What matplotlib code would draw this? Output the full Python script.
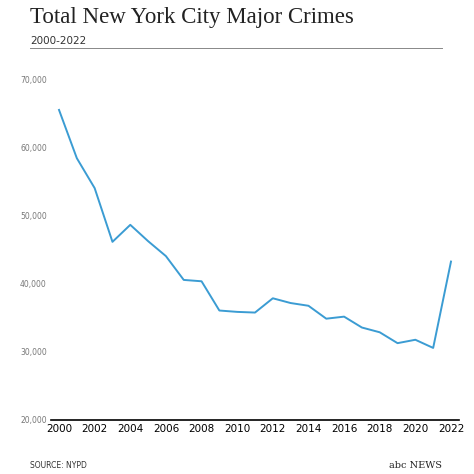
import matplotlib.pyplot as plt
from matplotlib.lines import Line2D

years = list(range(2000, 2023))
crimes = [65600, 58500, 54100, 46200, 48700, 46300, 44100, 40600, 40400, 36100,
          35900, 35800, 37900, 37200, 36800, 34900, 35200, 33600, 32900, 31300,
          31800, 30600, 43300]
xticks = list(range(2000, 2023, 2))
yticks = [20000, 30000, 40000, 50000, 60000, 70000]


def main():
    fig = plt.figure(figsize=(4.74, 4.74), dpi=100)
    ax = fig.add_axes([51 / 474, 54 / 474, 408 / 474, 340 / 474])
    ax.plot(years, crimes, color="#3b9cd3", lw=1.4)
    ax.set_xlim(1999.55, 2022.45)
    ax.set_ylim(20000, 70000)
    ax.set_xticks(xticks)
    ax.set_xticklabels([str(x) for x in xticks], fontsize=7.5)
    ax.set_yticks(yticks)
    ax.set_yticklabels([f"{y:,}" for y in yticks], fontsize=5.5, color="#777777")
    for s in ["top", "right", "left"]:
        ax.spines[s].set_visible(False)
    ax.spines["bottom"].set_linewidth(1.2)
    ax.tick_params(axis="y", length=0, pad=3)
    ax.tick_params(axis="x", length=0, pad=3)

    fig.text(30 / 474, 1 - 18 / 474, "Total New York City Major Crimes",
             fontsize=16.5, family="Liberation Serif", va="center", color="#222222")
    fig.text(30 / 474, 1 - 41 / 474, "2000-2022", fontsize=7.5, va="center", color="#333333")
    fig.add_artist(Line2D([30 / 474, 442 / 474], [1 - 48 / 474, 1 - 48 / 474],
                          color="#888888", lw=0.7, transform=fig.transFigure))
    fig.text(30 / 474, 1 - 466 / 474, "SOURCE: NYPD", fontsize=5.5, va="center", color="#333333")
    fig.text(442 / 474, 1 - 466 / 474, "abc NEWS", fontsize=7, va="center", ha="right",
             family="DejaVu Serif", color="#222222")
    fig.savefig("out.png", dpi=100)


if __name__ == "__main__":
    main()
